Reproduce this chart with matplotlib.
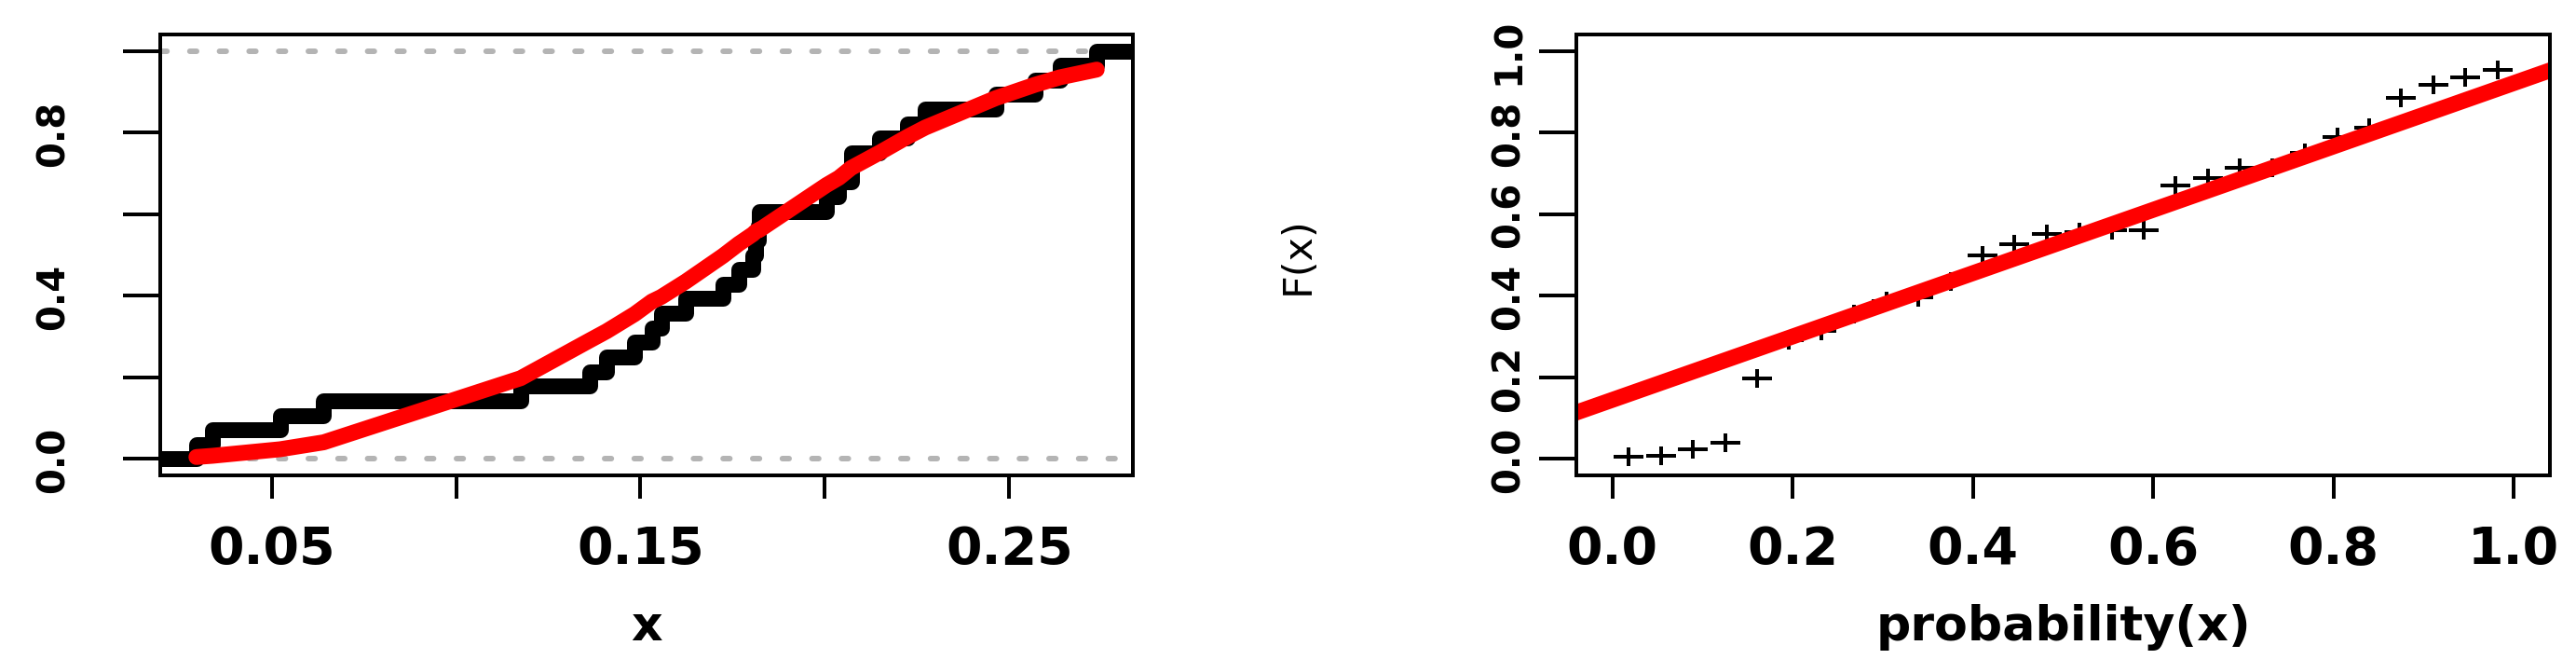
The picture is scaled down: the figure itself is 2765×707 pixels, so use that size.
import numpy as np
import matplotlib
matplotlib.use("Agg")
import matplotlib.pyplot as plt
from matplotlib.path import Path

# sorted sample values (jumps of the empirical CDF, left panel)
x_sorted = [0.0296, 0.0340, 0.0523, 0.0641, 0.1175, 0.1363, 0.1408, 0.1484,
            0.1531, 0.1556, 0.1623, 0.1724, 0.1766, 0.1805, 0.1812, 0.1820,
            0.1822, 0.2004, 0.2038, 0.2071, 0.2071, 0.2149, 0.2223, 0.2272,
            0.2463, 0.2570, 0.2637, 0.2737]
# fitted CDF evaluated at each sample value
F_fit = [0.005, 0.008, 0.024, 0.041, 0.198, 0.291, 0.313, 0.355,
         0.386, 0.397, 0.435, 0.498, 0.527, 0.551, 0.557, 0.561,
         0.561, 0.671, 0.689, 0.713, 0.713, 0.751, 0.789, 0.812,
         0.884, 0.917, 0.935, 0.954]
# plotting positions for the P-P plot (right panel)
prob = [0.018, 0.054, 0.089, 0.125, 0.161, 0.196, 0.232, 0.268,
        0.304, 0.339, 0.375, 0.411, 0.446, 0.482, 0.518, 0.554,
        0.589, 0.625, 0.661, 0.696, 0.732, 0.768, 0.804, 0.839,
        0.875, 0.911, 0.946, 0.982]
# fitted straight line on the P-P plot
line_intercept = 0.145
line_slope = 0.776

left_xticks = [0.05, 0.10, 0.15, 0.20, 0.25]
left_xlabels = ["0.05", "", "0.15", "", "0.25"]
left_yticks = [0.0, 0.2, 0.4, 0.6, 0.8, 1.0]
left_ylabels = ["0.0", "", "0.4", "", "0.8", ""]
right_ticks = [0.0, 0.2, 0.4, 0.6, 0.8, 1.0]
right_labels = ["0.0", "0.2", "0.4", "0.6", "0.8", "1.0"]

W, H = 2765, 708
fig = plt.figure(figsize=(W / 100, 7.0799), dpi=100)
px = 0.72  # points per pixel

ax1 = fig.add_axes([172 / W, 1 - 511 / H, (1216 - 172) / W, (511 - 38) / H])
ax2 = fig.add_axes([1692 / W, 1 - 511 / H, (2737 - 1692) / W, (511 - 38) / H])

hfont = dict(family="DejaVu Sans", size=40, weight="bold")
lfont = dict(family="DejaVu Sans", size=37.5, weight="bold")
vfont = dict(family="DejaVu Sans", size=29, weight="bold")
dash = (0, (1.2, 4.1))

# ---- left: empirical CDF with fitted CDF ----
xs = np.array(x_sorted)
levels = np.arange(1, len(xs) + 1) / len(xs)
for yh in (0, 1):
    ax1.axhline(yh, color="#b4b4b4", lw=6 * px, ls=dash, dash_capstyle="round")
ax1.step(np.r_[-1.0, xs, 1.0], np.r_[0.0, levels, 1.0], where="post",
         color="black", lw=17 * px, solid_joinstyle="round", solid_capstyle="round")
ax1.plot(xs, F_fit, color="red", lw=17 * px, solid_capstyle="round", solid_joinstyle="round")
ax1.set_xlim(0.0198, 0.2835)
ax1.set_ylim(-0.04, 1.04)
ax1.set_xticks(left_xticks)
ax1.set_xticklabels(left_xlabels, **hfont)
ax1.set_yticks(left_yticks)
ax1.set_yticklabels(left_ylabels, rotation=90, va="center", **vfont)
ax1.set_xlabel("x", labelpad=22, **lfont)

# ---- right: P-P plot ----
plus = Path([(-1, 0), (1, 0), (0, -0.62), (0, 0.62)],
            [Path.MOVETO, Path.LINETO, Path.MOVETO, Path.LINETO])
ax2.plot(prob, F_fit, ls="none", marker=plus, ms=32 * px, mew=4 * px, color="black")
ax2.axline((0, line_intercept), slope=line_slope, color="red", lw=17 * px)
ax2.set_xlim(-0.04, 1.04)
ax2.set_ylim(-0.04, 1.04)
ax2.set_xticks(right_ticks)
ax2.set_xticklabels(right_labels, **hfont)
ax2.set_yticks(right_ticks)
ax2.set_yticklabels(right_labels, rotation=90, va="center", **vfont)
ax2.set_xlabel("probability(x)", labelpad=22, **lfont)
ax2.set_ylabel("F(x)", va="center", family="DejaVu Sans", size=31)
ax2.yaxis.set_label_coords(-0.286, 0.5)

for ax in (ax1, ax2):
    for s in ax.spines.values():
        s.set_linewidth(4 * px)
    ax.tick_params(axis="x", length=25 * px, width=4 * px, pad=27 * px)
ax1.tick_params(axis="y", length=40 * px, width=4 * px, pad=54 * px)
ax2.tick_params(axis="y", length=40 * px, width=4 * px, pad=12 * px)

fig.savefig("out.png", dpi=100)
